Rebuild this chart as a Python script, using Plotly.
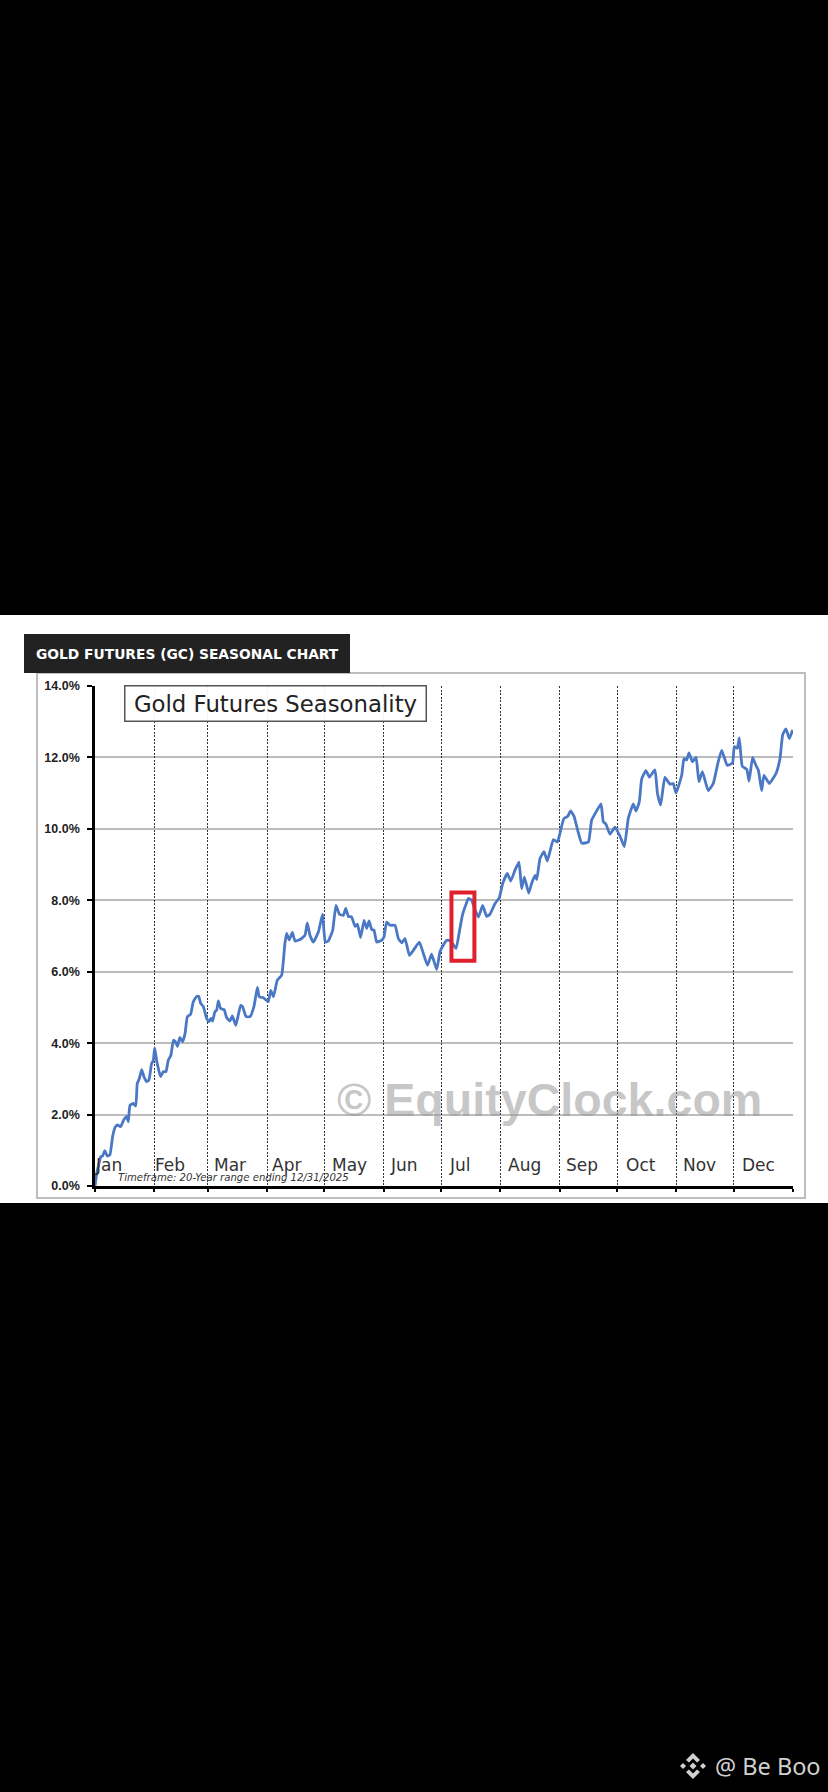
import plotly.graph_objects as go

W = 828
H = 1792

# day of year (0 = Jan 1) and seasonal return in %
days = [0, 0.9, 1.9, 3.0, 4.0, 5.1, 6.4, 7.8, 9.2, 10.5, 11.7, 13.4, 15.2, 16.6, 17.4, 18.3, 20.0, 21.3, 22.1, 23.2,
        24.4, 25.6, 27.0, 28.2, 29.6, 30.5, 31.2, 32.2, 34.3, 35.7, 37.1, 38.3, 39.7, 41.0, 42.0, 43.1, 44.4, 45.8, 47.1, 48.3,
        50.0, 51.4, 53.2, 54.2, 55.3, 56.6, 58.4, 59.6, 60.7, 61.5, 62.7, 63.6, 64.5, 65.7, 67.5, 68.8, 70.6, 71.8, 73.6, 74.9,
        76.2, 77.2, 79.0, 81.1, 83.1, 84.9, 85.9, 88.0, 90.6, 91.9, 93.3, 95.3, 97.6, 99.3, 100.2, 101.6, 103.2, 104.6, 107.2, 109.8,
        111.0, 112.4, 114.2, 116.8, 119.0, 120.4, 122.0, 124.3, 126.0, 127.8, 129.9, 131.1, 132.5, 134.2, 136.0, 137.2, 138.9, 140.7, 142.1, 143.3,
        144.7, 145.9, 147.3, 149.9, 151.1, 152.5, 154.3, 156.9, 158.6, 160.4, 162.1, 164.4, 166.5, 169.6, 171.7, 173.9, 176.0, 178.7, 180.4, 182.1,
        183.9, 186.0, 188.8, 190.5, 192.1, 193.5, 195.2, 197.0, 198.2, 200.5, 202.7, 204.8, 206.5, 209.2, 211.4, 213.2, 215.6, 217.4, 219.6, 221.7,
        223.1, 224.5, 226.8, 228.3, 230.1, 231.0, 232.7, 234.8, 236.5, 239.7, 241.8, 243.1, 245.2, 247.2, 248.7, 250.5, 252.7, 254.5, 258.0, 259.7,
        262.3, 264.6, 265.8, 267.2, 269.3, 271.9, 274.5, 276.8, 278.9, 281.5, 282.9, 284.6, 285.9, 288.1, 289.9, 292.8, 294.1, 295.8, 298.0, 300.7,
        302.4, 303.8, 306.8, 308.0, 309.4, 310.6, 312.4, 314.3, 315.8, 317.6, 320.7, 323.3, 325.9, 327.7, 330.6, 333.4, 334.3, 335.9, 336.9, 338.5,
        340.8, 342.0, 343.9, 345.6, 346.9, 348.6, 349.8, 352.6, 356.1, 358.2, 359.6, 361.3, 363.1, 364.8]
returns = [0.00, 0.35, 0.59, 0.82, 0.84, 0.99, 0.84, 0.87, 1.38, 1.64, 1.71, 1.66, 1.87, 1.94, 1.80, 2.26, 2.31, 2.24, 2.87, 3.01,
           3.26, 3.06, 2.92, 2.97, 3.43, 3.52, 3.87, 3.52, 3.06, 3.20, 3.20, 3.52, 3.66, 4.08, 4.04, 3.91, 4.16, 4.04, 4.27, 4.74,
           4.81, 5.16, 5.31, 5.31, 5.11, 5.03, 4.69, 4.60, 4.69, 4.62, 4.88, 4.92, 5.18, 4.97, 4.94, 4.72, 4.62, 4.76, 4.50, 4.78,
           5.06, 5.02, 4.74, 4.74, 5.02, 5.56, 5.30, 5.27, 5.16, 5.48, 5.30, 5.76, 5.90, 6.79, 7.07, 6.89, 7.10, 6.86, 6.90, 7.02,
           7.37, 7.02, 6.83, 7.11, 7.61, 6.83, 6.86, 7.16, 7.86, 7.61, 7.58, 7.77, 7.55, 7.53, 7.27, 7.33, 6.96, 7.44, 7.21, 7.42,
           7.18, 7.16, 6.83, 6.88, 6.97, 7.39, 7.30, 7.30, 6.93, 6.81, 6.93, 6.46, 6.60, 6.83, 6.51, 6.18, 6.49, 6.06, 6.56, 6.74,
           6.88, 6.86, 6.65, 7.11, 7.58, 7.81, 8.05, 8.00, 7.81, 7.53, 7.86, 7.55, 7.61, 7.91, 8.07, 8.47, 8.75, 8.54, 8.84, 9.07,
           8.33, 8.65, 8.20, 8.47, 8.70, 8.58, 9.17, 9.36, 9.10, 9.70, 9.63, 9.87, 10.29, 10.35, 10.50, 10.35, 9.90, 9.60, 9.63, 10.24,
           10.50, 10.70, 10.20, 10.13, 9.85, 10.05, 9.80, 9.50, 10.30, 10.70, 10.50, 10.75, 11.40, 11.63, 11.45, 11.65, 11.00, 10.67, 11.44, 11.25,
           11.27, 11.00, 11.50, 11.97, 11.93, 12.13, 11.88, 12.00, 11.32, 11.60, 11.07, 11.27, 11.88, 12.20, 11.78, 11.85, 12.30, 12.26, 12.55, 11.75,
           11.67, 11.34, 12.00, 11.78, 11.64, 11.07, 11.50, 11.27, 11.55, 11.97, 12.63, 12.80, 12.53, 12.77]

months = ["Jan", "Feb", "Mar", "Apr", "May", "Jun", "Jul", "Aug", "Sep", "Oct", "Nov", "Dec"]
month_starts = [0, 31, 59, 90, 120, 151, 181, 212, 243, 273, 304, 334]
y_ticks = [0, 2, 4, 6, 8, 10, 12, 14]
y_labels = ["0.0%", "2.0%", "4.0%", "6.0%", "8.0%", "10.0%", "12.0%", "14.0%"]
grid_levels = [2, 4, 6, 8, 10, 12]

highlight_days = [186.4, 198.4]
highlight_range = [6.31, 8.22]

# month labels do not sit at the same distance from their line
label_shift = [-2, -1, 4, 3, 6, 4, 6, 6, 4, 7, 5, 6]


# page pixels -> paper fractions
def px(x):
    return x / W


def py(y):
    return 1 - y / H


def rect(x0, y0, x1, y1, **kw):
    return dict(type="rect", xref="paper", yref="paper",
                x0=px(x0), x1=px(x1), y0=py(y0), y1=py(y1), **kw)


def poly(points, **kw):
    path = "M" + " L".join(f"{px(x):.5f},{py(y):.5f}" for x, y in points) + " Z"
    return dict(type="path", xref="paper", yref="paper", path=path, **kw)


def text(x, y, s, size, color, family="DejaVu Sans", anchor="center", **kw):
    return dict(xref="paper", yref="paper", x=px(x), y=py(y), text=s, showarrow=False,
                xanchor=anchor, yanchor="middle", font=dict(size=size, color=color, family=family), **kw)


fig = go.Figure()
fig.add_trace(go.Scatter(x=days, y=returns, mode="lines",
                         line=dict(color="#4a78c4", width=2.8, shape="spline", smoothing=0.4), hoverinfo="skip"))

# white panel, chart frame, header tab
shapes = [
    rect(0, 615, W, 1203, fillcolor="white", line_width=0, layer="below"),
    rect(37, 673, 805, 1198, fillcolor="white", line=dict(color="#bdbdbd", width=2), layer="below"),
    rect(24, 634, 350, 673, fillcolor="#222222", line_width=0),
]
# red highlight box
shapes.append(dict(type="rect", xref="x", yref="y", x0=highlight_days[0], x1=highlight_days[1],
                   y0=highlight_range[0], y1=highlight_range[1], line=dict(color="#e0202c", width=4)))
# binance style logo at the bottom right
icon = "#d0d0d0"
cx, cy = 693, 1766
shapes += [
    poly([(cx - 13, cy), (cx - 10, cy - 3), (cx - 7, cy), (cx - 10, cy + 3)], fillcolor=icon, line_width=0),
    poly([(cx + 13, cy), (cx + 10, cy - 3), (cx + 7, cy), (cx + 10, cy + 3)], fillcolor=icon, line_width=0),
    poly([(cx, cy - 3.5), (cx + 3.5, cy), (cx, cy + 3.5), (cx - 3.5, cy)], fillcolor=icon, line_width=0),
    poly([(cx, cy - 13), (cx + 7, cy - 6), (cx + 4, cy - 3.5), (cx, cy - 7.5), (cx - 4, cy - 3.5), (cx - 7, cy - 6)],
         fillcolor=icon, line_width=0),
    poly([(cx, cy + 13), (cx + 7, cy + 6), (cx + 4, cy + 3.5), (cx, cy + 7.5), (cx - 4, cy + 3.5), (cx - 7, cy + 6)],
         fillcolor=icon, line_width=0),
]

annotations = [
    text(187, 654, "<b>GOLD FUTURES (GC) SEASONAL CHART</b>", 13.8, "white"),
    text(275.5, 704, "Gold Futures Seasonality", 22.8, "#222222", bgcolor="rgba(255,255,255,0.92)",
         bordercolor="#555555", borderwidth=1.5, width=298, height=32, align="center"),
    text(549, 1100, "<b>© EquityClock.com</b>", 46.6, "rgba(150,150,150,0.55)", family="Liberation Sans"),
    text(116, 1177, "<i>Timeframe: 20-Year range ending 12/31/2025</i>", 10.1, "#333333", anchor="left"),
    text(713, 1766, "@ Be Boo", 23.5, "#d0d0d0", family="Noto Sans", anchor="left"),
]
for name, start, shift in zip(months, month_starts, label_shift):
    annotations.append(dict(xref="x", yref="y", x=start, y=0.59, text=name, showarrow=False, xanchor="left",
                            xshift=shift, font=dict(size=17, color="#333333", family="DejaVu Sans")))

fig.update_layout(
    width=W, height=H, autosize=False,
    margin=dict(l=0, r=0, t=0, b=0, pad=0, autoexpand=False),
    paper_bgcolor="black", plot_bgcolor="white",
    showlegend=False, shapes=shapes, annotations=annotations,
    xaxis=dict(domain=[px(95), px(793)], range=[0, 365], tickvals=month_starts, showticklabels=False,
               ticks="outside", ticklen=3, tickcolor="black", tickwidth=1.5,
               showgrid=True, gridcolor="#333333", gridwidth=1.4, griddash="2px,1.5px",
               showline=True, linecolor="black", linewidth=2.5, zeroline=False,
               minor=dict(tickvals=[365], ticks="outside", ticklen=3, tickcolor="black", showgrid=False)),
    yaxis=dict(domain=[py(1186), py(686)], range=[0, 14], tickvals=y_ticks, ticktext=y_labels,
               ticks="outside", ticklen=5, tickcolor="black", tickwidth=1.5, ticklabelstandoff=5,
               tickfont=dict(size=12.5, color="#222222", family="Liberation Sans", weight="bold"),
               showgrid=False, showline=True, linecolor="black", linewidth=2.5, zeroline=False,
               minor=dict(tickvals=grid_levels, showgrid=True, gridcolor="#bcbcbc", gridwidth=1.6, ticks="")),
)

fig.write_html("out.html", config={"displayModeBar": False},
               post_script="document.body.style.margin='0';document.body.style.background='black';")
